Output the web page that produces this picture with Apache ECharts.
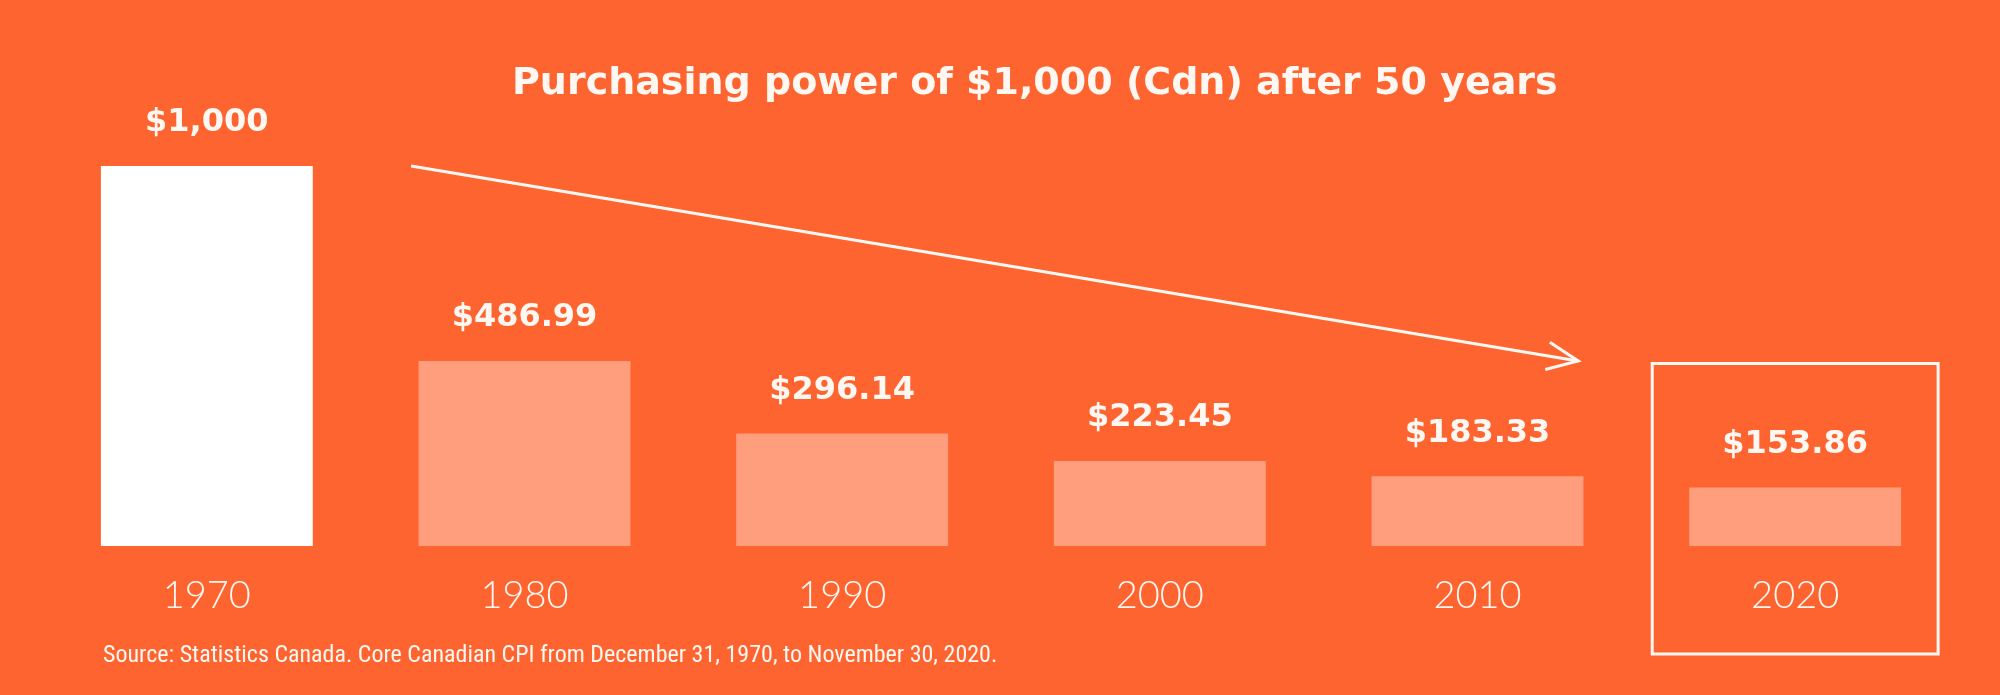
<!DOCTYPE html>
<html>
<head>
<meta charset="utf-8">
<script src="https://cdn.jsdelivr.net/npm/echarts@6/dist/echarts.min.js"></script>
<style>
html,body{margin:0;padding:0;background:#FD6430;}
#chart{width:2000px;height:695px;}
</style>
</head>
<body>
<div id="chart"></div>
<script>
const categories = ['1970', '1980', '1990', '2000', '2010', '2020'];
const values = [1000, 486.99, 296.14, 223.45, 183.33, 153.86];
const valueLabels = ['$1,000', '$486.99', '$296.14', '$223.45', '$183.33', '$153.86'];
const titleText = 'Purchasing power of $1,000 (Cdn) after 50 years';
const sourceText = 'Source: Statistics Canada. Core Canadian CPI from December 31, 1970, to November 30, 2020.';

const BG = '#FD6430';
const LIGHT = '#FF9E7D';
const TXT = '#FFF8F2';

const chart = echarts.init(document.getElementById('chart'));

const option = {
  backgroundColor: BG,
  animation: false,
  title: [
    {
      text: titleText,
      left: 507,
      top: 60,
      textStyle: { color: TXT, fontSize: 38, fontWeight: 'bold', fontFamily: '"DejaVu Sans", "Open Sans", sans-serif' }
    },
    {
      text: sourceText,
      left: 98,
      top: 639,
      textStyle: { color: TXT, fontSize: 24, fontWeight: 'normal', fontFamily: '"Liberation Sans Narrow", "Roboto Condensed", "Open Sans", sans-serif' }
    }
  ],
  grid: { left: 48, right: 46, top: 166, bottom: 149, containLabel: false },
  xAxis: {
    type: 'category',
    data: categories,
    axisLine: { show: false },
    axisTick: { show: false },
    axisLabel: {
      color: TXT, fontSize: 38, margin: 31,
      fontFamily: 'Lato, "Open Sans", sans-serif', fontWeight: 300
    }
  },
  yAxis: {
    type: 'value', min: 0, max: 1000,
    show: false,
    splitLine: { show: false }
  },
  series: [{
    type: 'bar',
    barWidth: '66.7%',
    data: values.map((v, i) => ({
      value: v,
      itemStyle: { color: i === 0 ? '#FFFFFF' : LIGHT }
    })),
    label: {
      show: true,
      position: 'top',
      distance: 27,
      color: TXT,
      fontSize: 32,
      fontWeight: 'bold',
      fontFamily: '"DejaVu Sans", "Open Sans", sans-serif',
      formatter: p => valueLabels[p.dataIndex]
    }
  }]
};
chart.setOption(option);

// Annotations (arrow and highlight box) positioned via the chart's own scales
const p0 = chart.convertToPixel({ gridIndex: 0 }, [0, values[0]]);
const p1 = chart.convertToPixel({ gridIndex: 0 }, [1, values[1]]);
const p5 = chart.convertToPixel({ gridIndex: 0 }, [5, 0]);
const band = p1[0] - p0[0];

const sx = p0[0] + band * 0.643, sy = p0[1];
const ex = p5[0] - band * 0.683, ey = p1[1];
const ang = Math.atan2(ey - sy, ex - sx);
const hl = 34, ha = 0.42;
const h1 = [ex - hl * Math.cos(ang - ha), ey - hl * Math.sin(ang - ha)];
const h2 = [ex - hl * Math.cos(ang + ha), ey - hl * Math.sin(ang + ha)];

const boxTop = chart.convertToPixel({ gridIndex: 0 }, [5, 480])[1];
const bx = p5[0] - band * 0.45;
const bw = band * 0.9;
const bh = (p5[1] + 108) - boxTop;

chart.setOption({
  graphic: [
    {
      type: 'line', z: 10,
      shape: { x1: sx, y1: sy, x2: ex, y2: ey },
      style: { stroke: TXT, lineWidth: 3 }
    },
    {
      type: 'polyline', z: 10,
      shape: { points: [h1, [ex, ey], h2] },
      style: { stroke: TXT, lineWidth: 3, fill: null }
    },
    {
      type: 'rect', z: 10,
      shape: { x: bx, y: boxTop, width: bw, height: bh },
      style: { stroke: TXT, lineWidth: 3, fill: null }
    }
  ]
});
</script>
</body>
</html>
